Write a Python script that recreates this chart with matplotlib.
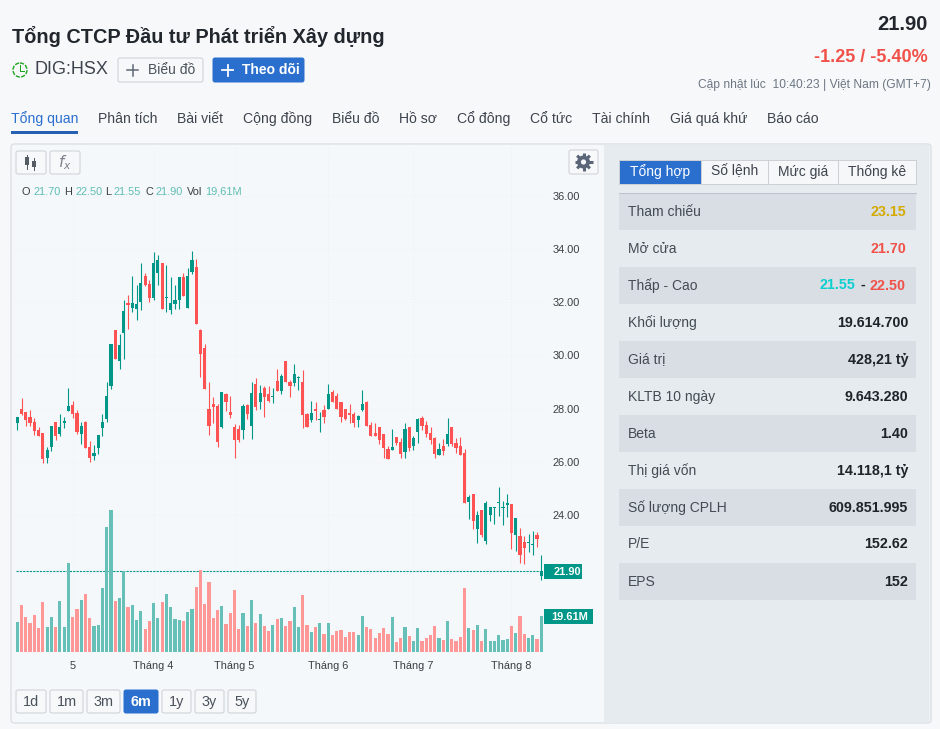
import matplotlib
matplotlib.use('Agg')
import numpy as np
from matplotlib import pyplot as plt
from matplotlib.patches import FancyBboxPatch, Rectangle, Circle

plt.rcParams['font.family'] = ['Liberation Sans', 'DejaVu Sans']

# daily candles
opens = [27.47, 27.98, 27.87, 27.68, 27.50, 27.20, 27.08, 26.14, 26.56, 27.50, 27.05, 27.46, 27.91, 28.13, 27.83, 27.05,
         27.50, 26.56, 26.22, 26.52, 27.27, 27.61, 28.85, 30.95, 29.79, 30.84, 31.97, 31.78, 31.74, 32.01, 32.98, 32.68,
         32.16, 33.10, 33.47, 32.16, 31.70, 31.93, 32.08, 32.95, 31.78, 33.13, 33.32, 30.95, 30.28, 27.99, 28.17, 28.10,
         27.31, 28.55, 27.87, 27.31, 27.23, 27.20, 28.14, 27.35, 28.93, 28.25, 28.78, 28.55, 28.44, 29.04, 28.66, 29.79,
         29.00, 28.96, 29.15, 29.00, 27.80, 27.57, 27.99, 27.57, 27.95, 27.99, 28.62, 28.47, 28.25, 27.99, 27.84, 27.80,
         27.57, 27.95, 28.25, 27.38, 27.08, 27.31, 27.05, 26.48, 26.44, 26.93, 26.74, 26.37, 27.31, 26.59, 27.12, 27.65,
         27.38, 27.08, 26.89, 26.26, 26.59, 26.67, 27.31, 26.71, 26.59, 26.33, 24.49, 24.79, 23.47, 24.19, 23.02, 24.00,
         24.26, 24.45, 24.26, 24.37, 24.41, 23.25, 23.21, 22.98, 22.95, 22.87, 23.25, 21.70]
highs = [27.70, 28.40, 27.87, 27.95, 27.65, 27.31, 27.08, 26.56, 27.35, 27.50, 27.80, 27.68, 28.77, 28.29, 27.95, 27.50,
         27.53, 26.78, 26.63, 27.01, 27.80, 29.00, 30.43, 30.95, 30.80, 32.08, 32.27, 32.98, 32.65, 33.47, 33.10, 32.83,
         33.89, 33.77, 33.47, 33.40, 32.95, 32.65, 32.95, 33.10, 33.29, 33.92, 33.62, 31.00, 30.43, 29.00, 28.44, 28.17,
         28.62, 28.59, 28.47, 27.42, 27.38, 28.17, 28.17, 29.00, 29.15, 28.89, 28.85, 28.85, 28.78, 29.49, 29.30, 29.79,
         29.08, 29.68, 29.23, 29.45, 27.84, 28.29, 28.25, 27.87, 28.14, 28.93, 28.70, 28.59, 28.25, 27.99, 28.17, 27.87,
         27.76, 28.70, 28.29, 27.50, 27.46, 27.31, 27.05, 26.60, 27.23, 26.93, 26.89, 27.46, 27.31, 26.97, 27.65, 27.72,
         27.53, 27.31, 26.93, 26.71, 26.86, 27.65, 27.31, 26.89, 26.93, 26.48, 24.75, 24.79, 24.15, 24.19, 24.52, 24.30,
         24.30, 25.05, 24.52, 24.79, 24.41, 23.89, 23.51, 23.21, 23.29, 23.40, 23.36, 22.50]
lows = [27.20, 27.76, 27.36, 27.36, 27.01, 26.97, 25.95, 25.95, 26.41, 26.82, 26.97, 27.27, 27.91, 27.65, 27.05, 26.67,
        26.52, 25.99, 26.07, 26.29, 26.97, 27.50, 28.74, 29.86, 29.49, 29.86, 31.00, 31.63, 31.33, 31.70, 32.61, 32.01,
        32.08, 32.65, 31.74, 31.63, 31.56, 31.74, 31.74, 32.23, 31.78, 33.06, 31.18, 29.19, 28.74, 27.01, 27.46, 26.56,
        27.27, 27.91, 27.65, 26.14, 26.75, 26.86, 27.61, 26.86, 27.95, 27.99, 27.69, 28.25, 28.21, 28.66, 28.55, 29.00,
        28.44, 28.85, 28.70, 27.27, 27.31, 27.50, 27.57, 27.12, 27.46, 27.99, 28.25, 27.99, 27.50, 27.57, 27.46, 27.31,
        27.31, 27.91, 27.35, 26.97, 26.97, 26.67, 26.14, 26.11, 26.44, 26.63, 26.14, 26.14, 26.41, 26.44, 26.71, 27.20,
        26.93, 26.67, 26.14, 26.26, 26.26, 26.59, 26.59, 26.33, 26.26, 24.45, 23.85, 23.47, 22.95, 23.17, 22.91, 23.77,
        23.66, 23.96, 23.63, 23.93, 22.72, 22.65, 22.20, 22.16, 22.61, 22.50, 22.80, 21.55]
closes = [27.70, 27.80, 27.57, 27.46, 27.16, 26.97, 26.11, 26.44, 27.35, 26.97, 27.31, 27.53, 28.10, 27.80, 27.12, 27.35,
          26.52, 26.14, 26.33, 27.01, 27.50, 28.47, 30.43, 29.86, 30.39, 31.67, 31.89, 31.97, 31.93, 32.72, 32.65, 32.16,
          33.47, 33.59, 31.74, 32.20, 31.97, 32.08, 32.95, 32.23, 32.98, 33.59, 31.18, 30.05, 28.74, 27.35, 28.06, 26.75,
          28.62, 28.25, 27.76, 26.82, 26.82, 28.10, 27.80, 28.59, 28.06, 28.59, 28.44, 28.29, 28.47, 28.66, 29.23, 29.00,
          28.85, 29.30, 29.19, 27.76, 27.31, 27.84, 27.91, 27.61, 27.69, 28.55, 28.25, 27.99, 27.69, 27.61, 27.76, 27.46,
          27.72, 28.17, 27.35, 26.97, 26.97, 26.82, 26.52, 26.11, 26.56, 26.71, 26.29, 27.23, 26.52, 26.89, 27.61, 27.35,
          27.04, 26.82, 26.29, 26.48, 26.41, 27.04, 26.67, 26.52, 26.26, 24.45, 24.68, 23.77, 24.00, 23.25, 24.45, 24.30,
          24.30, 24.49, 24.30, 24.45, 23.32, 23.89, 22.50, 22.76, 22.98, 22.91, 23.10, 21.90]
volumes = [16.3, 25.6, 19.1, 15.8, 20.1, 13.1, 27.2, 13.6, 19.1, 13.6, 27.8, 13.6, 48.5, 19.1, 23.4, 28.3, 31.6, 18.5,
           14.2, 14.7, 34.8, 68.1, 77.3, 27.8, 29.4, 44.1, 24.5, 25.6, 17.4, 22.3, 12.5, 16.9, 26.7, 18.5, 27.2, 31.6,
           24.5, 18.0, 17.4, 16.9, 21.8, 23.4, 35.4, 44.6, 26.1, 38.1, 18.5, 22.9, 25.0, 15.2, 21.2, 33.8, 12.5, 21.2,
           14.2, 28.3, 15.8, 20.7, 14.2, 11.4, 14.7, 18.0, 18.5, 14.2, 16.9, 24.5, 13.6, 31.0, 14.7, 10.9, 13.6, 15.8,
           9.8, 15.8, 9.3, 11.4, 12.0, 8.2, 10.9, 10.9, 9.3, 19.6, 13.6, 12.5, 7.6, 10.3, 13.1, 9.8, 19.1, 5.4, 7.6,
           13.6, 8.7, 6.0, 13.1, 6.0, 7.6, 9.3, 14.2, 7.6, 6.5, 16.9, 7.1, 6.0, 8.2, 34.8, 13.1, 12.0, 14.7, 6.0, 12.5,
           6.0, 6.0, 9.3, 6.5, 7.1, 14.2, 10.3, 19.6, 9.8, 7.6, 9.3, 7.1, 19.61]

price_ticks = [24, 26, 28, 30, 32, 34, 36]
month_idx = [13, 32, 51, 73, 93, 116]
month_labels = ['5', 'Tháng 4', 'Tháng 5', 'Tháng 6', 'Tháng 7', 'Tháng 8']
last_price = 21.90

nav_tabs = ['Tổng quan', 'Phân tích', 'Bài viết', 'Cộng đồng', 'Biểu đồ', 'Hồ sơ', 'Cổ đông', 'Cổ tức',
            'Tài chính', 'Giá quá khứ', 'Báo cáo']
nav_x = [11, 98, 177, 243, 332, 399, 457, 530, 592, 670, 767]
ohlc_parts = [('O', 21), ('21.70', 33), ('H', 64), ('22.50', 75), ('L', 105), ('21.55', 114), ('C', 145),
              ('21.90', 156), ('Vol', 187), ('19,61M', 205)]
range_btns = [('1d', 16, 46), ('1m', 50, 83), ('3m', 87, 120), ('6m', 124, 158), ('1y', 162, 191), ('3y', 195, 224),
              ('5y', 228, 256)]
side_tabs = [('Tổng hợp', 619, 701), ('Số lệnh', 701, 768), ('Mức giá', 768, 838), ('Thống kê', 838, 916)]
row_labels = ['Tham chiếu', 'Mở cửa', 'Thấp - Cao', 'Khối lượng', 'Giá trị', 'KLTB 10 ngày', 'Beta', 'Thị giá vốn',
              'Số lượng CPLH', 'P/E', 'EPS']
row_values = ['23.15', '21.70', '22.50', '19.614.700', '428,21 tỷ', '9.643.280', '1.40', '14.118,1 tỷ',
              '609.851.995', '152.62', '152']

GREEN = '#009688'
RED = '#ff5252'
BLUE = '#2b6fce'
TEXT = '#333a44'
PX = 0.72  # one pixel line width in points

fig = plt.figure(figsize=(9.4, 7.29), dpi=100, facecolor='#f7f8fa')

# whole figure axes in pixel coords for the page furniture
ui = fig.add_axes([0, 0, 1, 1])
ui.set_xlim(0, 940)
ui.set_ylim(729, 0)
ui.axis('off')


def label(x, y, s, size=10, color=TEXT, weight='normal', ha='left', va='center', **kw):
    return ui.text(x, y, s, fontsize=size, color=color, fontweight=weight, ha=ha, va=va, **kw)


def button(x0, y0, x1, y1, face='#f7f8fa', edge='#ccd0d5', z=2):
    ui.add_patch(FancyBboxPatch((x0 + 2, y0 + 2), x1 - x0 - 4, y1 - y0 - 4, boxstyle='round,pad=2,rounding_size=2',
                                fc=face, ec=edge, lw=PX, zorder=z))


# header
label(12, 36, 'Tổng CTCP Đầu tư Phát triển Xây dựng', size=14.35, color='#22272e', weight='bold')
ui.add_patch(Circle((20, 70), 7, fc='none', ec='#1aa51a', lw=1, ls=(0, (3, 1)), zorder=3))
ui.plot([20, 20, 24], [65, 71, 71], color='#1aa51a', lw=PX, zorder=3)
label(34, 69, 'DIG:HSX', size=13, color='#3d444d')
button(118, 58, 203, 82)
ui.plot([127, 138], [70, 70], color='#5d6875', lw=1.1)
ui.plot([132.5, 132.5], [64.5, 75.5], color='#5d6875', lw=1.1)
label(148, 70, 'Biểu đồ', size=10, color='#4a525c')
button(213, 58, 304, 82, face=BLUE, edge=BLUE)
ui.plot([222, 233], [70, 70], color='white', lw=1.3, zorder=3)
ui.plot([227.5, 227.5], [64.5, 75.5], color='white', lw=1.3, zorder=3)
label(242, 70, 'Theo dõi', size=10, color='white', weight='bold', zorder=3)

label(928, 24, '21.90', size=14.5, color='#22272e', weight='bold', ha='right')
label(928, 57, '-1.25 / -5.40%', size=13, color='#f0524a', weight='bold', ha='right')
label(931, 85, 'Cập nhật lúc  10:40:23 | Việt Nam (GMT+7)', size=8.65, color='#6d7783', ha='right')

for name, x in zip(nav_tabs, nav_x):
    label(x, 119, name, size=10.1, color=BLUE if name == 'Tổng quan' else '#3d444d')
ui.add_patch(Rectangle((11, 131), 67, 3, fc='#2560b3', ec='none'))

# panels
ui.add_patch(FancyBboxPatch((12, 145), 918, 577, boxstyle='round,pad=1,rounding_size=3', fc='#f4f8fb', ec='#d3d8dc',
                            lw=PX))
ui.add_patch(FancyBboxPatch((604, 144.5), 325.5, 578, boxstyle='round,pad=0,rounding_size=3', fc='#e6ebef', ec='none',
                            lw=0))
ui.add_patch(Rectangle((604, 144.5), 8, 578, fc='#e6ebef', ec='none'))

# chart toolbar
button(16, 151, 46, 174)
ui.plot([27, 27], [155, 169], color='#555c64', lw=PX)
ui.add_patch(Rectangle((25, 157), 4, 8, fc='#555c64', ec='none', zorder=3))
ui.plot([34, 34], [158, 170], color='#555c64', lw=PX)
ui.add_patch(Rectangle((32, 161), 4, 6, fc='#555c64', ec='none', zorder=3))
button(50, 151, 80, 174)
ui.text(65, 163, r'$f_x$', fontsize=11, color='#7a8087', ha='center', va='center', zorder=3)
button(569, 150, 598, 174)
# gear icon
gear_x, gear_y = 583.5, 162
for a in np.deg2rad([0, 45, 90, 135]):
    dx, dy = 9 * np.cos(a), 9 * np.sin(a)
    ui.plot([gear_x - dx, gear_x + dx], [gear_y - dy, gear_y + dy], color='#5b6779', lw=2.2, zorder=3,
            solid_capstyle='butt')
ui.add_patch(Circle((gear_x, gear_y), 6.5, fc='#5b6779', ec='none', zorder=3))
ui.add_patch(Circle((gear_x, gear_y), 2.6, fc='#f7f8fa', ec='none', zorder=4))

for s, x in ohlc_parts:
    is_num = s[0].isdigit()
    label(x, 191.5, s, size=7.9, color='#5fbdb3' if is_num else '#3a3f45')

for s, x0, x1 in range_btns:
    active = s == '6m'
    button(x0, 690, x1, 713, face=BLUE if active else '#f7f8fa', edge=BLUE if active else '#ccd0d5')
    label((x0 + x1) / 2, 702, s, size=10.4, color='white' if active else '#4a525c', ha='center', zorder=3,
          weight='bold' if active else 'normal')

# right hand table
for i, (s, x0, x1) in enumerate(side_tabs):
    active = i == 0
    ui.add_patch(Rectangle((x0, 159.5), x1 - x0, 24, fc=BLUE if active else '#f5f7f9', ec='#ccd0d5', lw=PX, zorder=2))
    label((x0 + x1) / 2, 171.5, s, size=10, color='white' if active else '#3d444d', ha='center', zorder=3)

ui.plot([619, 916], [193, 193], color='#bcc3cc', lw=PX, zorder=3)
for i, (name, val) in enumerate(zip(row_labels, row_values)):
    y0 = 193 + 37 * i
    if i % 2 == 0:
        ui.add_patch(Rectangle((619, y0), 297, 37, fc='#d9dde4', ec='none', zorder=2))
    label(628, y0 + 18.5, name, size=10, color='#444b54', zorder=3)
    color = '#1f242b'
    if i == 0:
        color = '#d4aa00'
    elif i in (1, 2):
        color = '#f0524a'
    label(906 if i < 3 else 908, y0 + 18.5, val, size=10.3, color=color, weight='bold', ha='right', zorder=3)
label(855, 285, '21.55', size=10.3, color='#0ccfcf', weight='bold', ha='right', zorder=3)
label(863, 285, '-', size=10.3, color='#1f242b', weight='bold', ha='center', zorder=3)

# candle chart, limits worked out from where the axis labels sit
px_left, px_right, px_top, px_bottom = 12, 547, 146, 657
pos = [px_left / 940, 1 - px_bottom / 729, (px_right - px_left) / 940, (px_bottom - px_top) / 729]
ax = fig.add_axes(pos, facecolor='none')
ax.set_xlim((px_left - 17.3) / 4.26, (px_right - 17.3) / 4.26)
ax.set_ylim(24 + (515 - px_bottom) / 26.6, 24 + (515 - px_top) / 26.6)

idx = np.arange(len(opens))
o, h, l, c = map(np.array, (opens, highs, lows, closes))
up = c >= o
colors = np.where(up, GREEN, RED)
ax.vlines(idx, l, h, colors=colors, lw=0.8, zorder=3, snap=True)
bottoms = np.minimum(o, c)
heights = np.maximum(np.abs(c - o), 0.04)
ax.bar(idx, heights, bottom=bottoms, width=0.75, color=colors, lw=0, zorder=3)

ax.set_xticks(month_idx)
ax.set_xticklabels(month_labels)
ax.set_yticks(price_ticks)
ax.set_yticklabels(['%.2f' % p for p in price_ticks])
ax.yaxis.tick_right()
ax.tick_params(axis='both', length=0, labelsize=7.9, labelcolor='#3a3f45')
ax.tick_params(axis='y', pad=4.2)
ax.tick_params(axis='x', pad=3)
ax.grid(True, color='#eef2f6', lw=PX, ls=':', zorder=0)
for sp in ax.spines.values():
    sp.set_visible(False)
ax.plot([idx[0] - 0.3, idx[-1]], [last_price, last_price], color=GREEN, lw=0.8, ls=(0, (2, 1)), zorder=2)

# volume bars share the candle x axis, 19.61M is 36 px tall
vol = fig.add_axes(pos, facecolor='none', sharex=ax)
vol.set_ylim(-(px_bottom - 652) / 1.836, (652 - px_top) / 1.836)
vol.axis('off')
vol.bar(idx, volumes, width=0.75, color=np.where(up, '#66c0b8', '#ff9797'), lw=0, zorder=1)

# price tags on the right of the chart
label(553, 621, '20.00', size=7.9, color='#222', weight='bold', zorder=3)
tags = fig.add_axes([0, 0, 1, 1], facecolor='none')
tags.set_xlim(0, 940)
tags.set_ylim(729, 0)
tags.axis('off')
tags.add_patch(Rectangle((544, 564), 38, 15, fc=GREEN, ec='none'))
tags.text(567, 571.7, '21.90', fontsize=7.9, color='white', fontweight='bold', ha='center', va='center')
tags.add_patch(Rectangle((544, 609), 49, 15, fc=GREEN, ec='none'))
tags.text(570, 616.7, '19.61M', fontsize=7.9, color='white', fontweight='bold', ha='center', va='center')

fig.savefig('out.png', dpi=100, facecolor=fig.get_facecolor())
